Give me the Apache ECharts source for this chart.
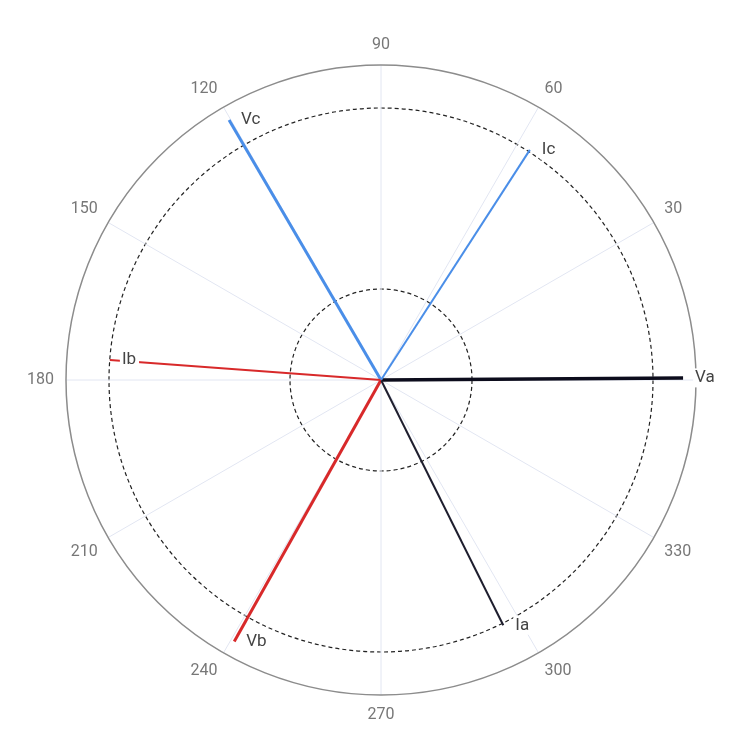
<!DOCTYPE html>
<html lang="en">
  <head>
    <meta charset="UTF-8" />
    <title>Phasor diagram</title>
    <script src="https://cdn.jsdelivr.net/npm/echarts@6/dist/echarts.min.js"></script>
    <style>
      html,
      body {
        margin: 0;
        background: #fff;
      }
      #main {
        width: 755px;
        height: 755px;
      }
    </style>
  </head>
  <body>
    <div id="main"></div>
    <script>
      // phasors: magnitude (0-100 of outer ring) and angle in degrees
      const names = ["Va", "Vb", "Vc", "Ia", "Ib", "Ic"];
      const magnitudes = [95.9, 95.2, 95.6, 87.0, 86.3, 87.0];
      const angles = [0.4, 240.7, 120.3, 296.5, 175.8, 57.1];
      const colors = ["#0c0c1c", "#d8292a", "#4a8ee8", "#1e1e2e", "#d8292a", "#4a8ee8"];
      const widths = [3.5, 3, 3, 2, 2, 2];

      const center = [381, 380];
      const fontFamily = "Roboto, 'Noto Sans', sans-serif";

      const chart = echarts.init(document.getElementById("main"));

      // two dashed reference rings drawn as bare polar frames
      const ring = (r) => ({ center: center, radius: r });
      const ringAngle = (idx) => ({
        polarIndex: idx,
        type: "value",
        min: 0,
        max: 360,
        startAngle: 0,
        clockwise: false,
        axisLine: { show: true, lineStyle: { color: "#222", width: 1.2, type: [4, 3] } },
        axisTick: { show: false },
        axisLabel: { show: false },
        splitLine: { show: false },
      });
      const ringRadius = (idx) => ({
        polarIndex: idx,
        type: "value",
        min: 0,
        max: 100,
        axisLine: { show: false },
        axisTick: { show: false },
        axisLabel: { show: false },
        splitLine: { show: false },
      });

      const series = names.map((name, i) => ({
        name: name,
        type: "line",
        coordinateSystem: "polar",
        polarIndex: 0,
        symbol: "circle",
        symbolSize: 0,
        silent: true,
        z: 10,
        lineStyle: { color: colors[i], width: widths[i] },
        itemStyle: { color: colors[i] },
        label: { show: false },
        data: [
          [0, angles[i]],
          {
            value: [magnitudes[i], angles[i]],
            label: {
              show: true,
              position: "right",
              distance: 10,
              formatter: name,
              color: "#444",
              fontSize: 17,
              fontFamily: fontFamily,
              backgroundColor: "#fff",
              padding: [1, 3, 1, 2],
            },
          },
        ],
      }));

      const option = {
        animation: false,
        polar: [{ center: center, radius: 315 }, ring(91), ring(272)],
        angleAxis: [
          {
            polarIndex: 0,
            type: "value",
            min: 0,
            max: 360,
            interval: 30,
            startAngle: 0,
            clockwise: false,
            z: 1,
            axisLine: { show: true, lineStyle: { color: "#8c8c8c", width: 1.5 } },
            axisTick: { show: false },
            axisLabel: {
              color: "#777",
              fontSize: 16,
              fontFamily: fontFamily,
              margin: 12,
            },
            splitLine: { show: true, lineStyle: { color: "#e2e6f2", width: 1 } },
          },
          ringAngle(1),
          ringAngle(2),
        ],
        radiusAxis: [
          {
            polarIndex: 0,
            type: "value",
            min: 0,
            max: 100,
            axisLine: { show: false },
            axisTick: { show: false },
            axisLabel: { show: false },
            splitLine: { show: false },
          },
          ringRadius(1),
          ringRadius(2),
        ],
        series: series,
      };

      chart.setOption(option);
    </script>
  </body>
</html>
